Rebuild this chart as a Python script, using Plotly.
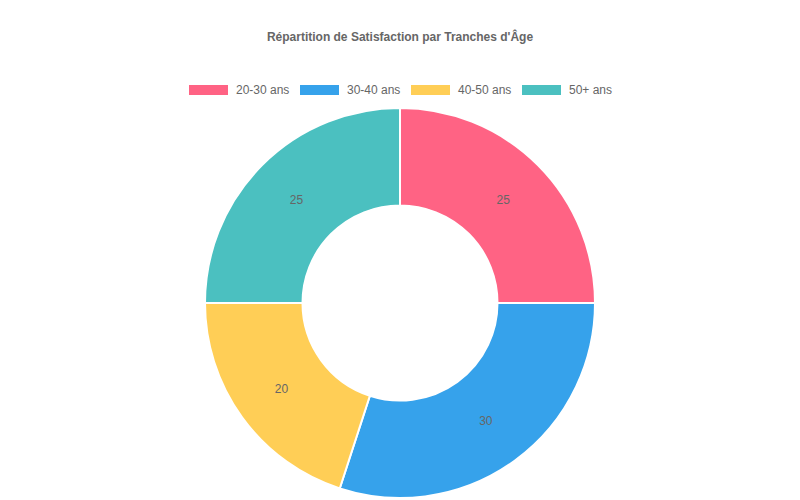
import plotly.graph_objects as go

labels = ["20-30 ans", "30-40 ans", "40-50 ans", "50+ ans"]
values = [25, 30, 20, 25]
colors = ["#FF6384", "#36A2EB", "#FFCE56", "#4BC0C0"]

W, H = 800, 500
FONT = "Liberation Sans, Arial, sans-serif"

fig = go.Figure()
fig.add_trace(go.Pie(
    labels=labels, values=values, hole=0.5, sort=False,
    direction="clockwise", rotation=0,
    marker=dict(colors=colors, line=dict(color="white", width=2)),
    textinfo="value", textposition="inside", insidetextorientation="horizontal",
    textfont=dict(family=FONT, size=12, color="#666666"),
    domain=dict(x=[205 / W, 595 / W], y=[2 / H, 392 / H]),
    showlegend=False, hoverinfo="label+value",
))

# custom legend (wide boxes like the reference)
box_x = [189, 300, 411, 522]
shapes = []
annotations = []
for i, lab in enumerate(labels):
    x0 = box_x[i]
    shapes.append(dict(type="rect", xref="paper", yref="paper",
                       x0=x0 / W, x1=(x0 + 39) / W, y0=1 - 95 / H, y1=1 - 85 / H,
                       fillcolor=colors[i], line=dict(width=0)))
    annotations.append(dict(text=lab, xref="paper", yref="paper",
                            x=(x0 + 45) / W, y=1 - 90 / H, xanchor="left", yanchor="middle",
                            showarrow=False, font=dict(family=FONT, size=12, color="#666666")))

fig.update_layout(
    width=W, height=H,
    margin=dict(l=0, r=0, t=0, b=0),
    paper_bgcolor="white", plot_bgcolor="white",
    title=dict(text="<b>Répartition de Satisfaction par Tranches d'Âge</b>",
               x=0.5, xanchor="center", y=1 - 37 / H, yanchor="middle",
               font=dict(family=FONT, size=12, color="#666666")),
    shapes=shapes, annotations=annotations,
)

fig.write_html("out.html")
